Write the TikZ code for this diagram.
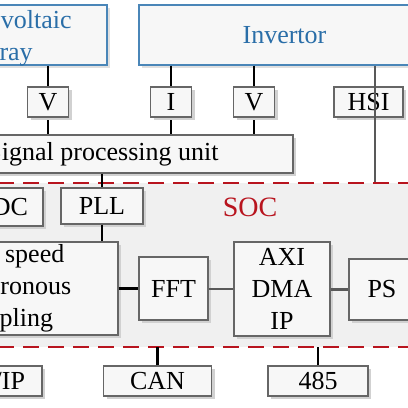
\documentclass[tikz,border=0pt]{standalone}
\usepackage{fontspec}
\setmainfont{Liberation Serif}
\usetikzlibrary{shadows}
\definecolor{socred}{HTML}{B8141E}
\definecolor{bluetxt}{HTML}{2A6EA8}
\definecolor{blueedge}{HTML}{4A86B8}
\definecolor{socbg}{HTML}{F0F0F0}
\begin{document}
\begin{tikzpicture}[x=1pt,y=-1pt,
  box/.style={draw=black!60, fill=black!3, line width=1.2pt, inner sep=0pt,
    font=\fontsize{26}{32}\selectfont, align=center,
    drop shadow={shadow xshift=3pt, shadow yshift=-3pt, fill=black!18, opacity=1}},
  bluebox/.style={draw=blueedge, fill=black!3, line width=1.2pt, inner sep=0pt,
    font=\fontsize{26}{32}\selectfont, align=center, text=bluetxt,
    drop shadow={shadow xshift=3pt, shadow yshift=-3pt, fill=black!12, opacity=1}},
  conn/.style={draw=black, line width=2.8pt},
  thinconn/.style={draw=black!65, line width=2pt},
  socline/.style={draw=socred, line width=2.8pt, dash pattern=on 16pt off 9pt}]
\useasboundingbox (0,0) rectangle (408,408);
\fill[white] (0,0) rectangle (408,408);
% SOC region
\fill[socbg] (-10,183) rectangle (420,347);
\coordinate (soctop) at (0,183);
\coordinate (socbot) at (0,347);
\coordinate (hsibot) at (375,183);
% top boxes
\node[bluebox, minimum width=202pt, minimum height=60pt] (PV) at (6,35) {};
\node[text=bluetxt, font=\fontsize{26}{32}\selectfont, align=center, inner sep=0pt] (PVT) at (6,38) {Photovoltaic\\array};
\node[bluebox, minimum width=291pt, minimum height=60pt] (INV) at (284.5,35) {Invertor};
% signal processing unit
\node[box, minimum width=380pt, minimum height=38pt] (SPU) at (103,154) {Signal processing unit};
% connectors behind sensor boxes
\draw[conn] (PV.south -| 48,0) -- (SPU.north -| 48,0);
\draw[conn] (INV.south -| 171,0) -- (SPU.north -| 171,0);
\draw[conn] (INV.south -| 254,0) -- (SPU.north -| 254,0);
\draw[thinconn] (INV.south -| hsibot) -- (hsibot);
% sensor boxes
\node[box, minimum width=41pt, minimum height=30pt] (V1) at (48,102) {V};
\node[box, minimum width=41pt, minimum height=30pt] (I) at (171,102) {I};
\node[box, minimum width=41pt, minimum height=30pt] (V2) at (254,102) {V};
\node[box, minimum width=69pt, minimum height=30pt] (HSI) at (368.5,102) {HSI};
\draw[thinconn] (HSI.north -| hsibot) -- (hsibot);
% SOC dashed borders
\draw[socline] (-2,183) -- (420,183);
\draw[socline] (-2,347) -- (420,347);
\node[text=socred, font=\fontsize{28}{32}\selectfont] (SOC) at (250,207) {SOC};
% SOC blocks
\node[box, minimum width=85pt, minimum height=38pt] (ADC) at (0.5,207) {ADC};
\node[box, minimum width=82pt, minimum height=36pt] (PLL) at (102,206) {PLL};
\node[box, minimum width=225pt, minimum height=93pt] (HSS) at (5.5,288.5) {High speed\\synchronous\\sampling};
\node[box, minimum width=69pt, minimum height=63pt] (FFT) at (173.5,288.5) {FFT};
\node[box, minimum width=96pt, minimum height=94pt] (AXI) at (282,289) {AXI\\DMA\\IP};
\node[box, minimum width=66pt, minimum height=61pt] (PS) at (382,289.5) {PS};
\draw[conn] (SPU.south -| PLL.north) -- (PLL.north);
\draw[conn] (PLL.south) -- (HSS.north -| PLL.south);
\draw[conn] (HSS.east |- FFT.west) -- (FFT.west);
\draw[thinconn, line width=2.6pt] (FFT.east |- AXI.west) -- (AXI.west);
\draw[thinconn, line width=2.6pt] (AXI.east |- PS.west) -- (PS.west);
% bottom blocks
\node[box, minimum width=112pt, minimum height=30pt] (TCP) at (-14,381) {TCP/IP};
\node[box, minimum width=108pt, minimum height=30pt] (CAN) at (157.5,381) {CAN};
\node[box, minimum width=100pt, minimum height=30pt] (RS) at (318,381) {485};
\draw[conn] (CAN.north) -- (CAN.north |- socbot);
\draw[conn] (RS.north) -- (RS.north |- socbot);
\end{tikzpicture}
\end{document}
